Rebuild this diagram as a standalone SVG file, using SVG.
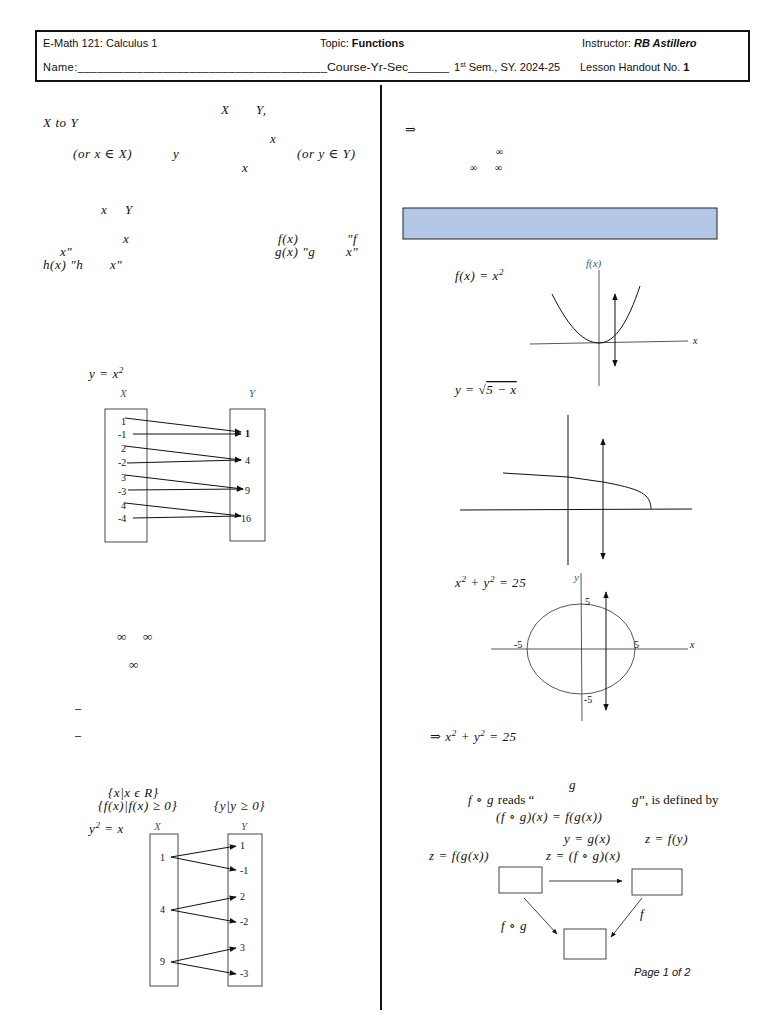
<svg xmlns="http://www.w3.org/2000/svg" width="768" height="1024" viewBox="0 0 768 1024">
<style>
.h{font-family:"Liberation Sans",Arial,sans-serif;font-size:11px;fill:#111}
.m{font-family:"Liberation Serif","DejaVu Serif",serif;font-style:italic;font-size:13px;fill:#111;letter-spacing:0.6px}
.n{font-family:"Liberation Serif",serif;font-size:10px;fill:#111}
.bl{font-family:"Liberation Serif",serif;font-style:italic;font-size:11px;fill:#3a5a8a}
.ln{stroke:#111;stroke-width:1;fill:none}
.ax{stroke:#444;stroke-width:0.9;fill:none}
.bx{stroke:#333;stroke-width:0.9;fill:#fff}
</style>
<defs>
<marker id="a" viewBox="0 0 10 10" refX="9" refY="5" markerWidth="7" markerHeight="7" orient="auto-start-reverse"><path d="M0,1 L10,5 L0,9 z" fill="#111"/></marker>
</defs>
<rect width="768" height="1024" fill="#fff"/>
<g id="header">
<rect x="36" y="31" width="713" height="50" fill="none" stroke="#111" stroke-width="2"/>
<text class="h" x="43" y="47">E-Math 121: Calculus 1</text>
<text class="h" x="320" y="47">Topic: <tspan font-weight="bold">Functions</tspan></text>
<text class="h" x="582" y="47">Instructor: <tspan font-weight="bold" font-style="italic">RB Astillero</tspan></text>
<text class="h" x="43" y="71" textLength="284" lengthAdjust="spacing">Name:______________________________________</text>
<text class="h" x="327" y="71" textLength="122" lengthAdjust="spacingAndGlyphs">Course-Yr-Sec______</text>
<text class="h" x="454" y="71">1<tspan font-size="7" dy="-4">st</tspan><tspan dy="4"> Sem., SY. 2024-25</tspan></text>
<text class="h" x="580" y="71">Lesson Handout No. <tspan font-weight="bold">1</tspan></text>
</g>
<line x1="381" y1="85" x2="381" y2="1010" stroke="#111" stroke-width="2"/>
<g id="left-text">
<text class="m" x="221" y="114">X</text><text class="m" x="256" y="114">Y,</text>
<text class="m" x="43" y="127">X to Y</text>
<text class="m" x="270" y="143">x</text>
<text class="m" x="73" y="158">(or x ∈ X)</text><text class="m" x="173" y="158">y</text><text class="m" x="297" y="158">(or y ∈ Y)</text>
<text class="m" x="242" y="172">x</text>
<text class="m" x="101" y="214">x</text><text class="m" x="125" y="214">Y</text>
<text class="m" x="123" y="243">x</text><text class="m" x="278" y="243">f(x)</text><text class="m" x="347" y="243">"f</text>
<text class="m" x="60" y="256">x"</text><text class="m" x="275" y="256">g(x)  "g</text><text class="m" x="346" y="256">x"</text>
<text class="m" x="43" y="269">h(x)  "h</text><text class="m" x="110" y="269">x"</text>
<text class="m" x="89" y="378">y = x<tspan font-size="9" dy="-5">2</tspan></text>
<text class="m" x="117" y="641" font-size="11">∞</text><text class="m" x="143" y="641" font-size="11">∞</text>
<text class="m" x="129" y="669" font-size="11">∞</text>
<text class="h" x="75" y="712">–</text><text class="h" x="75" y="739">–</text>
<text class="m" x="108" y="797">{x|x ϵ R}</text>
<text class="m" x="98" y="810">{f(x)|f(x) ≥ 0}</text>
<text class="m" x="214" y="810">{y|y  ≥ 0}</text>
<text class="m" x="89" y="833">y<tspan font-size="9" dy="-5">2</tspan><tspan dy="5"> = x</tspan></text>
</g>
<g id="mapping1">
<text class="bl" x="120" y="397">X</text><text class="bl" x="249" y="397">Y</text>
<rect class="bx" x="105" y="409" width="42" height="133"/>
<rect class="bx" x="230" y="409" width="35" height="132"/>
<g class="n" fill="#223">
<text x="121" y="425">1</text><text x="118" y="438">-1</text><text x="121" y="452">2</text><text x="118" y="466">-2</text>
<text x="121" y="481">3</text><text x="118" y="495">-3</text><text x="121" y="509">4</text><text x="118" y="522">-4</text>
<text x="245" y="437" font-weight="bold">1</text><text x="245" y="464">4</text><text x="245" y="494">9</text><text x="241" y="522">16</text>
</g>
</g>
<g id="mapping2">
<text class="bl" x="154" y="830">X</text><text class="bl" x="241" y="830">Y</text>
<rect class="bx" x="150" y="834" width="28" height="152"/>
<rect class="bx" x="228" y="834" width="34" height="152"/>
<g class="n">
<text x="160" y="861">1</text><text x="160" y="913">4</text><text x="160" y="965">9</text>
<text x="240" y="849">1</text><text x="240" y="874">-1</text><text x="240" y="900">2</text><text x="240" y="925">-2</text><text x="240" y="951">3</text><text x="240" y="977">-3</text>
</g>
</g>
<g id="right-text">
<text class="m" x="405" y="134" font-style="normal">⇒</text>
<text class="n" x="496" y="155">∞</text><text class="n" x="470" y="171">∞</text><text class="n" x="495" y="171">∞</text>
<rect x="403" y="208" width="314" height="31" fill="#b4c7e7" stroke="#222" stroke-width="1"/>
<text class="m" x="455" y="280">f(x) = x<tspan font-size="9" dy="-5">2</tspan></text>
<text class="m" x="455" y="394">y = √<tspan text-decoration="overline">5 − x</tspan></text>
<text class="m" x="455" y="587">x<tspan font-size="9" dy="-5">2</tspan><tspan dy="5"> + y</tspan><tspan font-size="9" dy="-5">2</tspan><tspan dy="5"> = 25</tspan></text>
<text class="m" x="430" y="741"><tspan font-style="normal">⇒</tspan> x<tspan font-size="9" dy="-5">2</tspan><tspan dy="5"> + y</tspan><tspan font-size="9" dy="-5">2</tspan><tspan dy="5"> = 25</tspan></text>
</g>
<g id="graph1">
<text class="bl" x="586" y="267" fill="#111">f(x)</text>
<line class="ax" x1="599" y1="270" x2="599" y2="386"/>
<line class="ax" x1="530" y1="344" x2="688" y2="341"/>
<text class="n" x="693" y="344" font-style="italic">x</text>
<path class="ln" d="M552,294 C570,330 585,343 599,343 C615,343 628,322 640,286"/>
<line class="ln" x1="615" y1="294" x2="615" y2="366" marker-start="url(#a)" marker-end="url(#a)"/>
</g>
<g id="graph2">
<line class="ln" x1="568" y1="415" x2="568" y2="565"/>
<line class="ln" x1="460" y1="510" x2="692" y2="509"/>
<path class="ln" d="M503,473 L568,477 L603,482 C625,486 640,490 646,496 C650,500 651,505 651,509"/>
<line class="ln" x1="603" y1="439" x2="603" y2="559" marker-start="url(#a)" marker-end="url(#a)"/>
</g>
<g id="graph3">
<text class="bl" x="574" y="581">y</text>
<line class="ax" x1="581" y1="573" x2="582" y2="721"/>
<line class="ax" x1="491" y1="649" x2="688" y2="649"/>
<ellipse class="ax" cx="581" cy="649" rx="54" ry="45"/>
<text class="n" x="585" y="605">5</text><text class="n" x="514" y="648">-5</text><text class="n" x="634" y="648">5</text>
<text class="n" x="690" y="648" font-style="italic">x</text><text class="n" x="584" y="703">-5</text>
<line class="ln" x1="606" y1="592" x2="606" y2="710" marker-start="url(#a)" marker-end="url(#a)"/>
</g>
<g id="composition-text">
<text class="m" x="569" y="789">g</text>
<text class="m" x="468" y="804">f ∘ g <tspan font-style="normal" letter-spacing="0">reads “</tspan></text>
<text class="m" x="632" y="804">g<tspan font-style="normal" letter-spacing="0">”, is defined by</tspan></text>
<text class="m" x="496" y="821" font-size="14">(f ∘ g)(x) = f(g(x))</text>
<text class="m" x="564" y="843">y = g(x)</text><text class="m" x="645" y="843">z = f(y)</text>
<text class="m" x="429" y="860">z = f(g(x))</text><text class="m" x="546" y="860">z = (f ∘ g)(x)</text>
<text class="m" x="501" y="930">f ∘ g</text><text class="m" x="640" y="918">f</text>
<text class="h" x="634" y="976" font-style="italic">Page 1 of 2</text>
</g>
<g id="box-x"><rect class="bx" x="499" y="867" width="43" height="26"/></g>
<g id="box-y"><rect class="bx" x="632" y="869" width="50" height="26"/></g>
<g id="box-z"><rect class="bx" x="564" y="929" width="42" height="30"/></g>
<g id="connectors" class="ln">
<line x1="125" y1="418" x2="241" y2="432" marker-end="url(#a)"/>
<line x1="133" y1="434" x2="241" y2="434" marker-end="url(#a)"/>
<line x1="125" y1="446" x2="241" y2="460" marker-end="url(#a)"/>
<line x1="127" y1="463" x2="241" y2="460" marker-end="url(#a)"/>
<line x1="125" y1="475" x2="243" y2="489" marker-end="url(#a)"/>
<line x1="128" y1="490" x2="243" y2="489" marker-end="url(#a)"/>
<line x1="125" y1="503" x2="241" y2="516" marker-end="url(#a)"/>
<line x1="133" y1="518" x2="241" y2="516"/>
<line x1="171" y1="857" x2="236" y2="846" marker-end="url(#a)"/>
<line x1="171" y1="857" x2="236" y2="870" marker-end="url(#a)"/>
<line x1="171" y1="910" x2="236" y2="897" marker-end="url(#a)"/>
<line x1="171" y1="910" x2="236" y2="922" marker-end="url(#a)"/>
<line x1="171" y1="962" x2="236" y2="948" marker-end="url(#a)"/>
<line x1="171" y1="962" x2="236" y2="974" marker-end="url(#a)"/>
<line x1="549" y1="881" x2="622" y2="881" stroke-width="0.8" marker-end="url(#a)"/>
<line x1="524" y1="898" x2="557" y2="934" stroke-width="0.8" marker-end="url(#a)"/>
<line x1="642" y1="898" x2="611" y2="937" stroke-width="0.8" marker-end="url(#a)"/>
</g>
</svg>
